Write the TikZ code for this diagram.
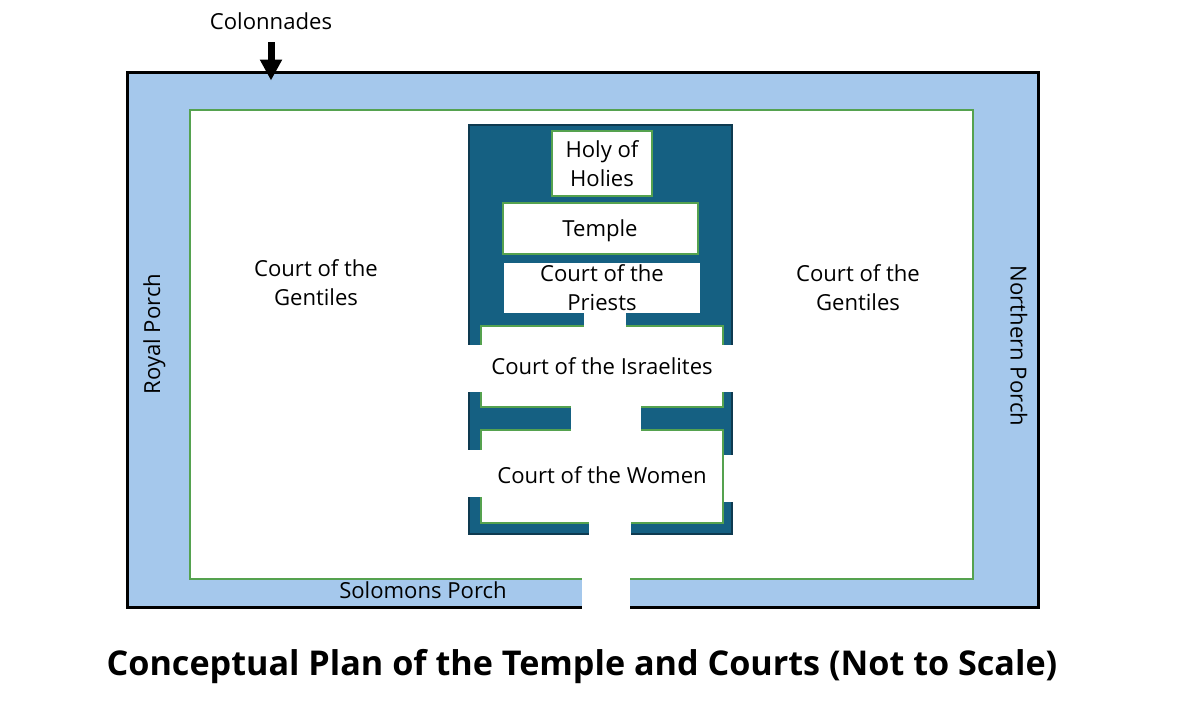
\documentclass[tikz,border=0pt]{standalone}
\usepackage{fontspec}
\setmainfont{Open Sans}
\usetikzlibrary{arrows.meta}
\definecolor{porch}{HTML}{A5C8EC}
\definecolor{grn}{HTML}{55A24F}
\definecolor{teal}{HTML}{156082}
\definecolor{tealdk}{HTML}{0E3A50}
\tikzset{
  px/.style={x=1pt,y=-1pt},
  lbl/.style={font=\fontsize{22.1}{29}\selectfont,align=center,inner sep=0pt,text=black},
  ttl/.style={font=\fontsize{34.15}{38}\selectfont\bfseries,inner sep=0pt,text=black},
  courtbox/.style={draw=grn,line width=2pt,fill=white},
  gap/.style={fill=white,draw=none}
}
\begin{document}
\begin{tikzpicture}[px]
\useasboundingbox (0,0) rectangle (1190,720);
\fill[white] (0,0) rectangle (1190,720);
% outer colonnade
\draw[black,line width=3pt,fill=porch] (127,72) rectangle (1038.5,607);
\draw[courtbox] (190,110) rectangle (973,579);
% sanctuary block
\draw[tealdk,line width=2pt,fill=teal] (469,125) rectangle (732,534);
\draw[courtbox,line width=2.5pt] (552,131) rectangle (652,196);
\draw[courtbox,line width=2.5pt] (503,203) rectangle (698,254);
\fill[white] (504,263) rectangle (700,313);
\draw[courtbox] (481,326) rectangle (723,407);
\draw[courtbox] (481,430) rectangle (723,523);
% openings
\fill[gap] (584,312) rectangle (626,328);
\fill[gap] (466,345) rectangle (483,392);
\fill[gap] (722,345) rectangle (735,392);
\fill[gap] (571,405) rectangle (641,432);
\fill[gap] (466,450) rectangle (483,497);
\fill[gap] (724,455) rectangle (735,502);
\fill[gap] (589,521) rectangle (631,537);
\fill[gap] (582,577) rectangle (630,610);
\fill[white] (482,327) rectangle (722,406);
\fill[white] (482,431) rectangle (722,522);
\draw[grn,line width=0.8pt] (723,455) -- (723,502);
% labels
\node[lbl] (colonnades) at (271,21) {Colonnades};
\node[lbl] (gentilesW) at (316,282.5) {Court of the\\Gentiles};
\node[lbl] (gentilesE) at (858,287.5) {Court of the\\Gentiles};
\node[lbl,rotate=90] (royal) at (154.5,334) {Royal Porch};
\node[lbl,rotate=-90] (northern) at (1019,346) {Northern Porch};
\node[lbl] (holy) at (602,164) {Holy of\\Holies};
\node[lbl] (temple) at (600,230.5) {Temple};
\node[lbl] (priests) at (602,287.5) {Court of the\\Priests};
\node[lbl] (israelites) at (602,366) {Court of the Israelites};
\node[lbl] (women) at (602,475) {Court of the Women};
\node[lbl] (solomon) at (423,590) {Solomons Porch};
\node[ttl] (title) at (582,667) {Conceptual Plan of the Temple and Courts (Not to Scale)};
% arrow
\coordinate (arrowstart) at (271,42);
\coordinate (arrowend) at (271,80.5);
\draw[line width=7pt,black,-{Triangle[length=21pt,width=21pt]}] (arrowstart) -- (arrowend);
\end{tikzpicture}
\end{document}
